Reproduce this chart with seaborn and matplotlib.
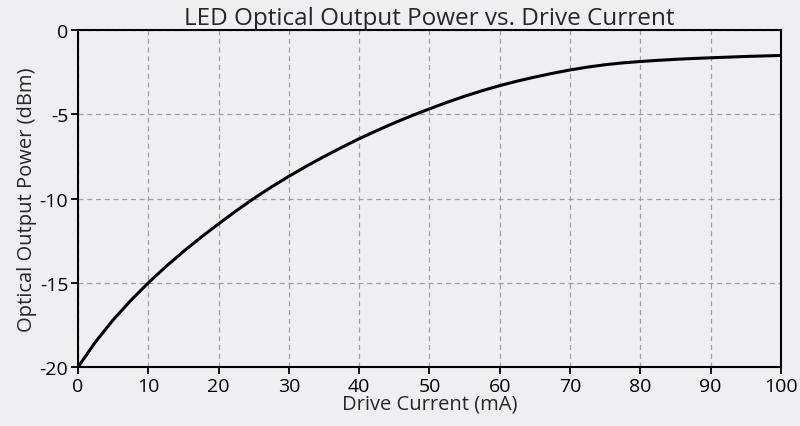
import pandas as pd
import matplotlib
matplotlib.use("Agg")
import matplotlib.pyplot as plt
import seaborn as sns

# drive current (mA) and optical output (dBm)
current_ma = [0, 2.5, 5, 7.5, 10, 12.5, 15, 17.5, 20, 22.5, 25, 27.5,
              30, 32.5, 35, 37.5, 40, 42.5, 45, 47.5, 50, 52.5, 55, 57.5,
              60, 62.5, 65, 67.5, 70, 72.5, 75, 77.5, 80, 82.5, 85, 87.5,
              90, 92.5, 95, 97.5, 100]
power_dbm = [-20.0, -18.5, -17.2, -16.05, -15.0, -14.04, -13.14, -12.3, -11.5, -10.73, -10.0, -9.32,
             -8.68, -8.08, -7.51, -6.97, -6.45, -5.97, -5.51, -5.08, -4.68, -4.29, -3.93, -3.6,
             -3.3, -3.03, -2.79, -2.57, -2.37, -2.2, -2.06, -1.95, -1.87, -1.8, -1.74, -1.69,
             -1.65, -1.61, -1.57, -1.54, -1.51]
x_ticks = [0, 10, 20, 30, 40, 50, 60, 70, 80, 90, 100]
y_ticks = [-20, -15, -10, -5, 0]

df = pd.DataFrame({"current": current_ma, "power": power_dbm})

bg = "#efeff3"
sns.set_style("ticks")
plt.rcParams["font.family"] = ["Open Sans", "DejaVu Sans"]
plt.rcParams["axes.unicode_minus"] = False

fig = plt.figure(figsize=(8, 4.27), dpi=100, facecolor=bg)
ax = fig.add_axes([0.0975, 0.138, 0.8787, 0.7894])
ax.set_facecolor(bg)

sns.lineplot(data=df, x="current", y="power", color="black", linewidth=2.2, ax=ax)

ax.set_xlim(0, 100)
ax.set_ylim(-20, 0)
ax.set_xticks(x_ticks)
ax.set_yticks(y_ticks)
ax.grid(True, linestyle=(0, (4, 3)), color="#a0a0a0", linewidth=0.9)
for s in ax.spines.values():
    s.set_color("black")
    s.set_linewidth(1.5)
ax.tick_params(direction="out", length=5, width=1.3, labelsize=14, colors="black", pad=2)

ax.set_title("LED Optical Output Power vs. Drive Current", fontsize=17.5, pad=2)
ax.set_xlabel("Drive Current (mA)", fontsize=14.5, labelpad=-1)
ax.set_ylabel("Optical Output Power (dBm)", fontsize=14.5, labelpad=2)

fig.savefig("out.png", dpi=100, facecolor=bg)
